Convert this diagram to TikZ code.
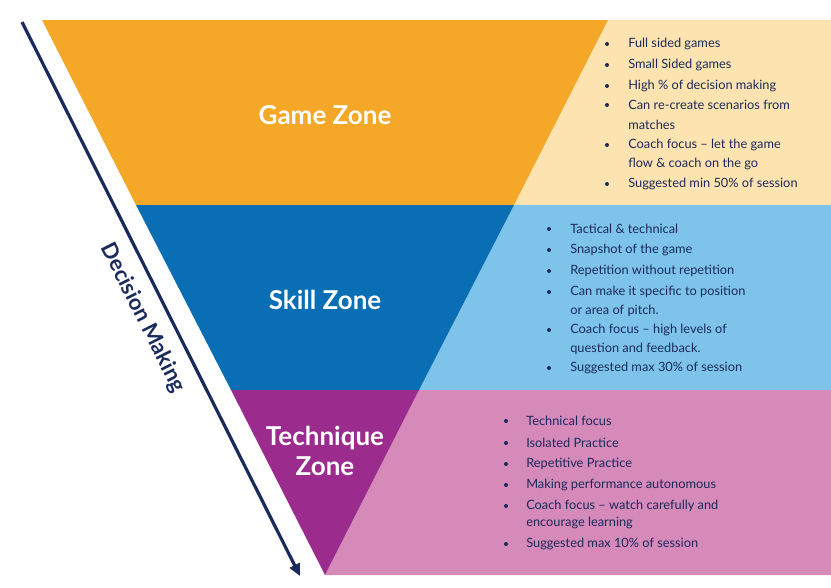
\documentclass[tikz,border=0pt]{standalone}
\usepackage{fontspec}
\setmainfont{Lato}
\usetikzlibrary{arrows.meta}

\definecolor{gameC}{RGB}{245,168,40}
\definecolor{gameL}{RGB}{253,227,176}
\definecolor{skillC}{RGB}{10,110,180}
\definecolor{skillL}{RGB}{126,196,234}
\definecolor{techC}{RGB}{155,44,142}
\definecolor{techL}{RGB}{213,138,185}
\definecolor{navy}{RGB}{27,42,92}

\tikzset{
  zone/.style={text=white, font=\fontsize{19.5}{23}\selectfont\bfseries, align=center},
  point/.style={text=navy, font=\fontsize{9.6}{11}\selectfont, anchor=west, inner sep=0pt},
  dot/.style={circle, fill=navy, inner sep=0pt, minimum size=3pt}
}

\begin{document}
\begin{tikzpicture}[x=0.75pt, y=-0.75pt]
\useasboundingbox (0,0) rectangle (831,587);

% light bands on the right
\fill[gameL] (608,20) -- (831,20) -- (831,205) -- (514,205) -- cycle;
\fill[skillL] (514,205) -- (831,205) -- (831,390) -- (419,390) -- cycle;
\fill[techL] (419,390) -- (831,390) -- (831,575) -- (325,575) -- cycle;

% the inverted triangle
\fill[gameC] (42,20) -- (608,20) -- (514,205) -- (136,205) -- cycle;
\fill[skillC] (136,205) -- (514,205) -- (419,390) -- (231,390) -- cycle;
\fill[techC] (231,390) -- (419,390) -- (325,575) -- cycle;

\node[zone] (game) at (325,115) {Game Zone};
\node[zone] (skill) at (325,300) {Skill Zone};
\node[zone] (tech) at (325,451) {Technique\\Zone};

% decision arrow
\coordinate (dtop) at (22,22);
\coordinate (dbot) at (300,576);
\draw[navy, line width=2.4pt, -{Triangle[length=9pt,width=8pt]}] (dtop) -- (dbot);
\node[text=navy, font=\fontsize{16.5}{19}\selectfont\bfseries, rotate=-63.35] (dm) at (143,318) {Decision Making};

% bullet points
\foreach \y/\b/\t [count=\i] in {
  44/1/Full sided games, 65/1/Small Sided games, 86/1/High \% of decision making,
  105/1/Can re-create scenarios from, 125/0/matches,
  145/1/Coach focus – let the game, 164/0/flow \& coach on the go,
  184/1/Suggested min 50\% of session}{
  \node[point] (g\i) at (628,\y) {\t};
  \ifnum\b=1 \node[dot] (gd\i) at (607,\y) {}; \fi
}
\foreach \y/\b/\t [count=\i] in {
  229/1/Tactical \& technical, 250/1/Snapshot of the game,
  271/1/Repetition without repetition, 292/1/Can make it specific to position,
  311/0/or area of pitch., 330/1/Coach focus – high levels of,
  349/0/question and feedback., 368/1/Suggested max 30\% of session}{
  \node[point] (s\i) at (570,\y) {\t};
  \ifnum\b=1 \node[dot] (sd\i) at (549,\y) {}; \fi
}
\foreach \y/\b/\t [count=\i] in {
  421/1/Technical focus, 443/1/Isolated Practice, 464/1/Repetitive Practice,
  485/1/Making performance autonomous, 506/1/Coach focus – watch carefully and,
  523/0/encourage learning, 544/1/Suggested max 10\% of session}{
  \node[point] (t\i) at (526,\y) {\t};
  \ifnum\b=1 \node[dot] (td\i) at (506,\y) {}; \fi
}
\end{tikzpicture}
\end{document}
